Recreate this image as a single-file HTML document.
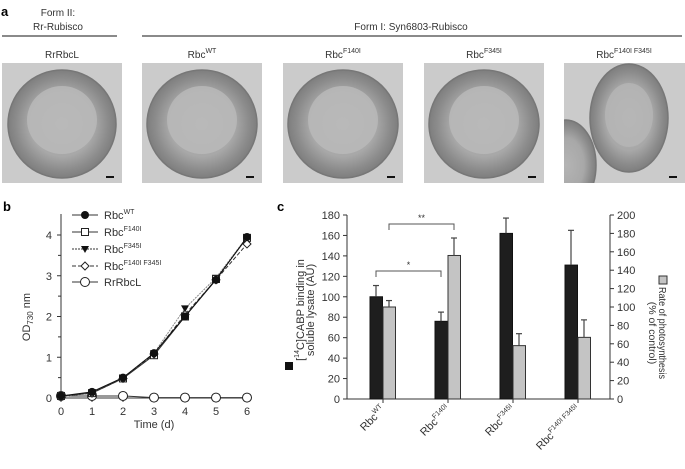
<!DOCTYPE html>
<html><head><meta charset="utf-8"><style>
body{margin:0;background:#fff;}
svg{display:block;font-family:"Liberation Sans",sans-serif;}
</style></head><body>
<svg id="fig" width="685" height="469" viewBox="0 0 685 469">
<defs>
<radialGradient id="cellg" cx="0.5" cy="0.5" r="0.5">
<stop offset="0" stop-color="#b4b4b4"/><stop offset="0.6" stop-color="#a8a8a8"/><stop offset="0.85" stop-color="#8c8c8c"/><stop offset="1" stop-color="#7e7e7e"/>
</radialGradient>
</defs>
<g>
<text x="1" y="16" font-size="13" font-weight="bold">a</text>
<text x="58" y="16" font-size="10" text-anchor="middle" fill="#333">Form II:</text>
<text x="58" y="30" font-size="10" text-anchor="middle" fill="#333">Rr-Rubisco</text>
<line x1="2" y1="36" x2="117" y2="36" stroke="#444" stroke-width="1.2"/>
<text x="411" y="30" font-size="10" text-anchor="middle" fill="#333">Form I: Syn6803-Rubisco</text>
<line x1="142" y1="36" x2="682" y2="36" stroke="#444" stroke-width="1.2"/>
<g id="imgs"></g>
</g>
<g id="pb"></g>
<g id="pc"></g>
</svg>
<script>
const NS="http://www.w3.org/2000/svg";
function mk(p,t,a,txt){const e=document.createElementNS(NS,t);for(const k in a)e.setAttribute(k,a[k]);if(txt!==undefined)e.textContent=txt;p.appendChild(e);return e;}
const defs=document.querySelector('defs');
const imgLabels=[["RrRbcL",""],["Rbc","WT"],["Rbc","F140I"],["Rbc","F345I"],["Rbc","F140I F345I"]];
const imgX=[2,142,283,424,564];
const imgs=document.getElementById('imgs');
imgLabels.forEach((l,i)=>{
 const x=imgX[i],w=(i==4?121:120);
 const t=mk(imgs,'text',{x:x+60,y:58,'font-size':10,'text-anchor':'middle',fill:'#333'});
 
 
 t.textContent=l[0];
 if(l[1]){mk(t,'tspan',{dy:-5,'font-size':7},l[1]);}
 const cp=mk(defs,'clipPath',{id:'clip'+i});
 mk(cp,'rect',{x:x,y:63,width:w,height:120});
 const g=mk(imgs,'g',{'clip-path':'url(#clip'+i+')'});
 
 
 mk(g,'rect',{x:x,y:63,width:w,height:120,fill:'#cbcbcb'});
 if(i==4){mk(g,'ellipse',{cx:x+65,cy:118,rx:39,ry:54,fill:'url(#cellg)',stroke:'#777','stroke-width':1.5});
   mk(g,'ellipse',{cx:x+2,cy:165,rx:30,ry:45,fill:'url(#cellg)',stroke:'#777','stroke-width':1.5});
   mk(g,'ellipse',{cx:x+65,cy:115,rx:24,ry:32,fill:'#b8b8b8',opacity:0.7});}
 else{mk(g,'ellipse',{cx:x+60,cy:124,rx:i==0?54:55,ry:54,fill:'url(#cellg)',stroke:'#777','stroke-width':1.5});
   mk(g,'ellipse',{cx:x+60,cy:120,rx:35,ry:34,fill:'#bababa',opacity:0.8});}
 mk(g,'rect',{x:x+w-16,y:176,width:8,height:2,fill:'#111'});
});
// panel b
const days=[0,1,2,3,4,5,6];
const odWT=[0.05,0.15,0.5,1.1,2.0,2.9,3.95];
const odF140I=[0.05,0.12,0.48,1.05,2.0,2.92,3.93];
const odF345I=[0.03,0.12,0.5,1.1,2.2,2.95,3.95];
const odDouble=[0.05,0.12,0.48,1.08,2.05,2.9,3.78];
const odRr=[0.05,0.05,0.05,0.01,0.01,0.01,0.01];
const bYTicks=[0,1,2,3,4];
const bx=d=>61+d*31, by=v=>398-v*40.75;
const pb=document.getElementById('pb');
mk(pb,'text',{x:3,y:211,'font-size':13,'font-weight':'bold'},'b');
mk(pb,'line',{x1:61,y1:214,x2:61,y2:398,stroke:'#333'});
mk(pb,'line',{x1:61,y1:398,x2:250,y2:398,stroke:'#333'});
bYTicks.forEach(v=>{mk(pb,'line',{x1:57,y1:by(v),x2:61,y2:by(v),stroke:'#333'});
 const t=mk(pb,'text',{x:52,y:by(v)+4,'font-size':11,'text-anchor':'end',fill:'#333'},v);
 
 if(v<4)mk(pb,'line',{x1:58,y1:by(v+0.5),x2:61,y2:by(v+0.5),stroke:'#333'});});
days.forEach(d=>{mk(pb,'line',{x1:bx(d),y1:398,x2:bx(d),y2:402,stroke:'#333'});
 const t=mk(pb,'text',{x:bx(d),y:415,'font-size':11,'text-anchor':'middle',fill:'#333'},d);
 });
const xt=mk(pb,'text',{x:154,y:428,'font-size':11,'text-anchor':'middle',fill:'#333'},'Time (d)');

const yt=mk(pb,'text',{transform:'translate(30,317) rotate(-90)','font-size':11,'text-anchor':'middle',fill:'#333'},'OD');

mk(yt,'tspan',{dy:3,'font-size':8},'730');mk(yt,'tspan',{dy:-3},' nm');
function marker(g,type,x,y){
 if(type=='dot')return mk(g,'circle',{cx:x,cy:y,r:4,fill:'#111'});
 if(type=='sq')return mk(g,'rect',{x:x-3.5,y:y-3.5,width:7,height:7,fill:'#fff',stroke:'#222'});
 if(type=='tri')return mk(g,'path',{d:`M${x-4},${y-3}L${x+4},${y-3}L${x},${y+4}Z`,fill:'#111'});
 if(type=='dia')return mk(g,'path',{d:`M${x},${y-4}L${x+4},${y}L${x},${y+4}L${x-4},${y}Z`,fill:'#fff',stroke:'#222'});
 return mk(g,'circle',{cx:x,cy:y,r:4.5,fill:'#fff',stroke:'#222'});
}
const series=[[odRr,'circ','RrRbcL','','#333',''],[odF345I,'tri','Rbc','F345I','#888','2,1'],[odF140I,'sq','Rbc','F140I','#333',''],[odDouble,'dia','Rbc','F140I F345I','#333','4,2'],[odWT,'dot','Rbc','WT','#111','']];
series.forEach(s=>{
 const g=mk(pb,'g',{});
 
 
 mk(g,'polyline',{points:s[0].map((v,i)=>bx(days[i])+','+by(v)).join(' '),fill:'none',stroke:s[4],'stroke-width':1,'stroke-dasharray':s[5]});
 s[0].forEach((v,i)=>marker(g,s[1],bx(days[i]),by(v)));
});
const legOrder=[4,2,1,3,0],legY=[215,232,249,266,282];
legOrder.forEach((si,k)=>{const s=series[si];const g=mk(pb,'g',{});
 
 mk(g,'line',{x1:72,y1:legY[k],x2:98,y2:legY[k],stroke:'#333','stroke-dasharray':s[5]});
 marker(g,s[1],85,legY[k]);
 const t=mk(g,'text',{x:104,y:legY[k]+4,'font-size':11,fill:'#333'},s[2]);
 if(s[3])mk(t,'tspan',{dy:-5,'font-size':7},s[3]);});
// panel c
const cats=['WT','F140I','F345I','F140I F345I'];
const cabp=[100,76,162,131];
const cabpErr=[11,9,15,34];
const photo=[100,156,58,67];
const photoErr=[7,19,13,19];
const cLTicks=[0,20,40,60,80,100,120,140,160,180];
const cRTicks=[0,20,40,60,80,100,120,140,160,180,200];
const pc=document.getElementById('pc');
const yl=v=>399-v*184/180, yr=v=>399-v*184/200, gx=i=>383+i*65;
mk(pc,'text',{x:277,y:211,'font-size':13,'font-weight':'bold'},'c');
mk(pc,'line',{x1:347,y1:215,x2:347,y2:399,stroke:'#333'});
mk(pc,'line',{x1:610,y1:215,x2:610,y2:399,stroke:'#333'});
mk(pc,'line',{x1:347,y1:399,x2:610,y2:399,stroke:'#333'});
cLTicks.forEach(v=>{mk(pc,'line',{x1:343,y1:yl(v),x2:347,y2:yl(v),stroke:'#333'});
 const t=mk(pc,'text',{x:340,y:yl(v)+4,'font-size':11,'text-anchor':'end',fill:'#333'},v);
 });
cRTicks.forEach(v=>{mk(pc,'line',{x1:610,y1:yr(v),x2:614,y2:yr(v),stroke:'#333'});
 const t=mk(pc,'text',{x:617,y:yr(v)+4,'font-size':11,fill:'#333'},v);
 });
cats.forEach((c,i)=>{
 const bx0=gx(i)-13;
 const b=mk(pc,'rect',{x:bx0,y:yl(cabp[i]),width:12.5,height:399-yl(cabp[i]),fill:'#1e1e1e',stroke:'#111'});
 
 mk(pc,'line',{x1:bx0+6,y1:yl(cabp[i]),x2:bx0+6,y2:yl(cabp[i]+cabpErr[i]),stroke:'#444','stroke-width':1.2});
 mk(pc,'line',{x1:bx0+3,y1:yl(cabp[i]+cabpErr[i]),x2:bx0+9,y2:yl(cabp[i]+cabpErr[i]),stroke:'#444','stroke-width':1.2});
 const g=mk(pc,'rect',{x:gx(i),y:yr(photo[i]),width:12.5,height:399-yr(photo[i]),fill:'#c4c4c4',stroke:'#333'});
 
 mk(pc,'line',{x1:gx(i)+6,y1:yr(photo[i]),x2:gx(i)+6,y2:yr(photo[i]+photoErr[i]),stroke:'#444','stroke-width':1.2});
 mk(pc,'line',{x1:gx(i)+3,y1:yr(photo[i]+photoErr[i]),x2:gx(i)+9,y2:yr(photo[i]+photoErr[i]),stroke:'#444','stroke-width':1.2});
 mk(pc,'line',{x1:gx(i),y1:399,x2:gx(i),y2:403,stroke:'#333'});
 const t=mk(pc,'text',{transform:`translate(${gx(i)+3},410) rotate(-45)`,'font-size':11,'text-anchor':'end',fill:'#333'},'Rbc');
 
 mk(t,'tspan',{dy:-5,'font-size':7},c);
});
const br1=mk(pc,'path',{d:`M${gx(0)-7},277V271H${gx(1)-7}V277`,fill:'none',stroke:'#555'});

mk(pc,'text',{x:(gx(0)+gx(1))/2-7,y:268,'font-size':9,'text-anchor':'middle',fill:'#333'},'*');
const br2=mk(pc,'path',{d:`M${gx(0)+6},230V224H${gx(1)+6}V230`,fill:'none',stroke:'#555'});

mk(pc,'text',{x:(gx(0)+gx(1))/2+6,y:221,'font-size':9,'text-anchor':'middle',fill:'#333'},'**');
const lt=mk(pc,'g',{transform:'translate(304,310) rotate(-90)'});

mk(lt,'rect',{x:-60,y:-19,width:8,height:8,fill:'#111'});
const l1=mk(lt,'text',{x:0,y:0,'font-size':11,'text-anchor':'middle',fill:'#333'},'[');
mk(l1,'tspan',{dy:-5,'font-size':7},'14');mk(l1,'tspan',{dy:5},'C]CABP binding in');
mk(lt,'text',{x:0,y:10,'font-size':11,'text-anchor':'middle',fill:'#333'},'soluble lysate (AU)');
const rt=mk(pc,'g',{transform:'translate(659,333) rotate(90)'});

mk(rt,'rect',{x:-57,y:-8,width:8,height:8,fill:'#c4c4c4',stroke:'#333'});
mk(rt,'text',{x:0,y:0,'font-size':10.5,'text-anchor':'middle',fill:'#333',textLength:92,lengthAdjust:'spacingAndGlyphs'},'Rate of photosynthesis');
mk(rt,'text',{x:0,y:10,'font-size':10.5,'text-anchor':'middle',fill:'#333'},'(% of control)');
</script>
</body></html>
